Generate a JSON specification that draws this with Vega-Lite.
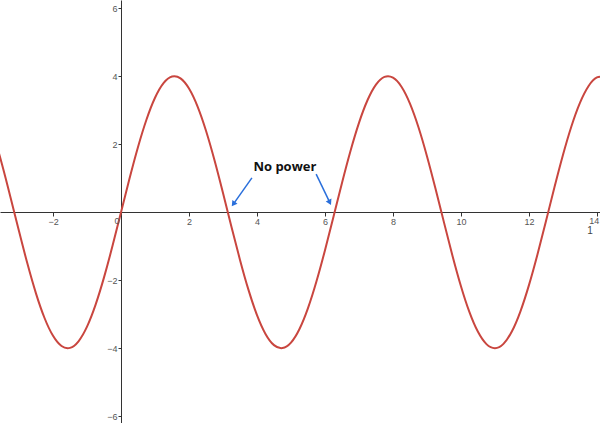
{
  "$schema": "https://vega.github.io/schema/vega-lite/v6.json",
  "width": 600,
  "height": 423,
  "padding": 0,
  "autosize": {"type": "none"},
  "background": "white",
  "config": {"view": {"stroke": null}},
  "datasets": {
    "curve": [
      {"x": -3.75, "y": 2.286}, {"x": -3.5, "y": 1.403}, {"x": -3.25, "y": 0.433}, {"x": -3.0, "y": -0.564},
      {"x": -2.75, "y": -1.527}, {"x": -2.5, "y": -2.394}, {"x": -2.25, "y": -3.112}, {"x": -2.0, "y": -3.637},
      {"x": -1.75, "y": -3.936}, {"x": -1.5, "y": -3.99}, {"x": -1.25, "y": -3.796}, {"x": -1.0, "y": -3.366},
      {"x": -0.75, "y": -2.726}, {"x": -0.5, "y": -1.918}, {"x": -0.25, "y": -0.99}, {"x": 0, "y": 0},
      {"x": 0.25, "y": 0.99}, {"x": 0.5, "y": 1.918}, {"x": 0.75, "y": 2.726}, {"x": 1.0, "y": 3.366},
      {"x": 1.25, "y": 3.796}, {"x": 1.5, "y": 3.99}, {"x": 1.75, "y": 3.936}, {"x": 2.0, "y": 3.637},
      {"x": 2.25, "y": 3.112}, {"x": 2.5, "y": 2.394}, {"x": 2.75, "y": 1.527}, {"x": 3.0, "y": 0.564},
      {"x": 3.25, "y": -0.433}, {"x": 3.5, "y": -1.403}, {"x": 3.75, "y": -2.286}, {"x": 4.0, "y": -3.027},
      {"x": 4.25, "y": -3.58}, {"x": 4.5, "y": -3.91}, {"x": 4.75, "y": -3.997}, {"x": 5.0, "y": -3.836},
      {"x": 5.25, "y": -3.436}, {"x": 5.5, "y": -2.822}, {"x": 5.75, "y": -2.033}, {"x": 6.0, "y": -1.118},
      {"x": 6.25, "y": -0.133}, {"x": 6.5, "y": 0.86}, {"x": 6.75, "y": 1.8}, {"x": 7.0, "y": 2.628},
      {"x": 7.25, "y": 3.292}, {"x": 7.5, "y": 3.752}, {"x": 7.75, "y": 3.978}, {"x": 8.0, "y": 3.957},
      {"x": 8.25, "y": 3.691}, {"x": 8.5, "y": 3.194}, {"x": 8.75, "y": 2.499}, {"x": 9.0, "y": 1.648},
      {"x": 9.25, "y": 0.696}, {"x": 9.5, "y": -0.3}, {"x": 9.75, "y": -1.278}, {"x": 10.0, "y": -2.176},
      {"x": 10.25, "y": -2.939}, {"x": 10.5, "y": -3.519}, {"x": 10.75, "y": -3.88}, {"x": 11.0, "y": -4.0},
      {"x": 11.25, "y": -3.872}, {"x": 11.5, "y": -3.502}, {"x": 11.75, "y": -2.915}, {"x": 12.0, "y": -2.146},
      {"x": 12.25, "y": -1.244}, {"x": 12.5, "y": -0.265}, {"x": 12.75, "y": 0.73}, {"x": 13.0, "y": 1.681},
      {"x": 13.25, "y": 2.527}, {"x": 13.5, "y": 3.215}, {"x": 13.75, "y": 3.704}, {"x": 14.0, "y": 3.962},
      {"x": 14.25, "y": 3.974}
    ],
    "arrows": [
      {"x": 3.85, "y": 1.01, "x2": 3.32, "y2": 0.26},
      {"x": 5.74, "y": 1.12, "x2": 6.13, "y2": 0.31}
    ],
    "labels": [
      {"x": 4.82, "y": 1.33, "text": "No power"}
    ],
    "ticks": [
      {"x": -0.12, "y": -0.26, "text": "0"}
    ],
    "edge": [
      {"x": 14.07, "y": -0.26, "text": "14"}
    ],
    "corner": [
      {"x": 13.8, "y": -0.55, "text": "1"}
    ]
  },
  "encoding": {
    "x": {
      "field": "x",
      "type": "quantitative",
      "scale": {"domain": [-3.56, 14.09], "nice": false, "zero": false},
      "axis": {
        "title": null,
        "orient": "bottom",
        "offset": -211,
        "values": [-2, 2, 4, 6, 8, 10, 12, 14],
        "labelExpr": "datum.value == 14 ? '' : datum.label",
        "grid": false,
        "domainColor": "#333333",
        "tickColor": "#333333",
        "tickSize": 4,
        "labelPadding": 1,
        "labelFont": "Liberation Sans",
        "labelFontSize": 9,
        "labelColor": "#555555"
      }
    },
    "y": {
      "field": "y",
      "type": "quantitative",
      "scale": {"domain": [-6.2, 6.24], "nice": false, "zero": false},
      "axis": {
        "title": null,
        "orient": "left",
        "offset": -121,
        "values": [-6, -4, -2, 2, 4, 6],
        "grid": false,
        "domainColor": "#333333",
        "tickColor": "#333333",
        "tickSize": 3,
        "labelPadding": 1,
        "labelFont": "Liberation Sans",
        "labelFontSize": 9,
        "labelColor": "#555555"
      }
    }
  },
  "layer": [
    {
      "data": {"name": "curve"},
      "mark": {"type": "line", "color": "#c9463f", "strokeWidth": 2, "interpolate": "natural", "clip": true}
    },
    {
      "data": {"name": "arrows"},
      "mark": {"type": "rule", "color": "#2a6fdb", "strokeWidth": 1.5},
      "encoding": {
        "x2": {"field": "x2"},
        "y2": {"field": "y2"}
      }
    },
    {
      "data": {"values": [{"x": 3.32, "y": 0.26}]},
      "mark": {"type": "point", "shape": "triangle", "filled": true, "color": "#2a6fdb", "size": 40, "angle": 215.6, "opacity": 1}
    },
    {
      "data": {"values": [{"x": 6.13, "y": 0.31}]},
      "mark": {"type": "point", "shape": "triangle", "filled": true, "color": "#2a6fdb", "size": 40, "angle": 154, "opacity": 1}
    },
    {
      "data": {"name": "labels"},
      "mark": {"type": "text", "font": "Open Sans", "fontWeight": "bold", "fontSize": 13, "color": "#111111", "align": "center", "baseline": "middle"},
      "encoding": {"text": {"field": "text"}}
    },
    {
      "data": {"name": "ticks"},
      "mark": {"type": "text", "font": "Liberation Sans", "fontSize": 9, "color": "#555555", "align": "center", "baseline": "middle"},
      "encoding": {"text": {"field": "text"}}
    },
    {
      "data": {"name": "edge"},
      "mark": {"type": "text", "font": "Liberation Sans", "fontSize": 9, "color": "#555555", "align": "right", "baseline": "middle"},
      "encoding": {"text": {"field": "text"}}
    },
    {
      "data": {"name": "corner"},
      "mark": {"type": "text", "font": "Liberation Sans", "fontSize": 10, "color": "#444444", "align": "center", "baseline": "middle"},
      "encoding": {"text": {"field": "text"}}
    }
  ]
}
